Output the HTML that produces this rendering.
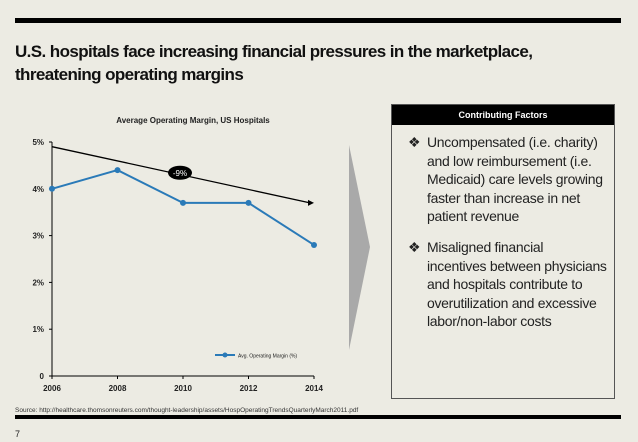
<!DOCTYPE html>
<html><head><meta charset="utf-8"><style>
body{margin:0;width:638px;height:442px;background:#ecebe3;position:relative;overflow:hidden;font-family:"Liberation Sans",sans-serif;}
.abs{position:absolute;}
#title{left:15px;top:40px;font-size:17px;font-weight:bold;line-height:23px;letter-spacing:-0.6px;color:#111;white-space:nowrap;}
#box{left:391px;top:104px;width:222px;height:293px;border:1px solid #555;background:#ecebe3;}
#boxhead{left:0;top:0;width:222px;height:20px;background:#000;color:#fff;font-size:9px;font-weight:bold;text-align:center;line-height:20px;}
.bul{position:absolute;left:19px;font-size:14px;line-height:18.5px;color:#222;letter-spacing:-0.3px;white-space:nowrap;}
.bul span.d{position:absolute;left:-3px;}
.bul div{padding-left:16px;}
</style></head><body>
<div class="abs" style="left:15px;top:18px;width:606px;height:5px;background:#000"></div>
<div id="title" class="abs">U.S. hospitals face increasing financial pressures in the marketplace,<br>threatening operating margins</div>
<svg class="abs" style="left:0;top:0" width="638" height="442">
<text x="193" y="123" font-size="8" font-weight="bold" text-anchor="middle" fill="#222">Average Operating Margin, US Hospitals</text>
<g id="axes"></g>
<polygon points="349,145 370,247 349,350" fill="#a9a9a9"/>
<text x="15" y="412" font-size="6.5" fill="#333">Source: http://healthcare.thomsonreuters.com/thought-leadership/assets/HospOperatingTrendsQuarterlyMarch2011.pdf</text>
<rect x="15" y="415" width="606" height="4" fill="#000"/>
<text x="15" y="437" font-size="9" fill="#222">7</text>
</svg>
<div id="box" class="abs">
<div id="boxhead" class="abs">Contributing Factors</div>
<div class="bul" style="top:28px"><span class="d">❖</span><div>Uncompensated (i.e. charity)<br>and low reimbursement (i.e.<br>Medicaid) care levels growing<br>faster than increase in net<br>patient revenue</div></div>
<div class="bul" style="top:133px"><span class="d">❖</span><div>Misaligned financial<br>incentives between physicians<br>and hospitals contribute to<br>overutilization and excessive<br>labor/non-labor costs</div></div>
</div>
<script>
const years=[2006,2008,2010,2012,2014];
const margins=[4.0,4.4,3.7,3.7,2.8];
const trendValues=[4.9,3.7];
const yTicks=[0,1,2,3,4,5];
const yTickLabels=["0","1%","2%","3%","4%","5%"];
const NS="http://www.w3.org/2000/svg";
const g=document.getElementById('axes');
const X0=52,X1=314,Y0=376,Y1=142;
const xs=v=>X0+(v-2006)/(2014-2006)*(X1-X0);
const ys=v=>Y0-v/5*(Y0-Y1);
function mk(t,a){const e=document.createElementNS(NS,t);for(const k in a)e.setAttribute(k,a[k]);g.appendChild(e);return e;}
let e=mk('line',{x1:X0,y1:Y1,x2:X0,y2:Y0,stroke:'#000','stroke-width':1});


e=mk('line',{x1:X0,y1:Y0,x2:X1,y2:Y0,stroke:'#000','stroke-width':1});


yTicks.forEach((t,i)=>{
 mk('line',{x1:X0-3,y1:ys(t),x2:X0,y2:ys(t),stroke:'#000'});
 const tx=mk('text',{x:X0-8,y:ys(t)+3,'font-size':8,'font-weight':'bold','text-anchor':'end',fill:'#222'});
 tx.textContent=yTickLabels[i];
 
 
});
years.forEach(y=>{
 mk('line',{x1:xs(y),y1:Y0,x2:xs(y),y2:Y0+3,stroke:'#000'});
 const tx=mk('text',{x:xs(y),y:Y0+15,'font-size':8,'font-weight':'bold','text-anchor':'middle',fill:'#222'});
 tx.textContent=y;
 
 
});
const tx0=xs(years[0]),ty0=ys(trendValues[0]),tx1=xs(years[years.length-1]),ty1=ys(trendValues[1]);
e=mk('line',{x1:tx0,y1:ty0,x2:tx1-4,y2:ty1,stroke:'#000','stroke-width':1.3});


e=mk('polygon',{points:`${tx1},${ty1} ${tx1-6},${ty1-3} ${tx1-6},${ty1+3}`,fill:'#000'});


const mx=xs(2010)-3,my=ys((trendValues[0]+trendValues[1])/2)-2;
e=mk('ellipse',{cx:mx,cy:my,rx:12,ry:7,fill:'#000'});


e=mk('text',{x:mx,y:my+3,'font-size':8,fill:'#fff','text-anchor':'middle'});
e.textContent='-9%';


e=mk('polyline',{points:years.map((y,i)=>xs(y)+','+ys(margins[i])).join(' '),fill:'none',stroke:'#2a7ab8','stroke-width':2});


years.forEach((y,i)=>{
 const c=mk('circle',{cx:xs(y),cy:ys(margins[i]),r:3,fill:'#2a7ab8'});
 
 
});
e=mk('line',{x1:215,y1:355,x2:235,y2:355,stroke:'#2a7ab8','stroke-width':2});


mk('circle',{cx:225,cy:355,r:2.5,fill:'#2a7ab8'});
e=mk('text',{x:238,y:357.5,'font-size':5,fill:'#222'});
e.textContent='Avg. Operating Margin (%)';


</script>
</body></html>
